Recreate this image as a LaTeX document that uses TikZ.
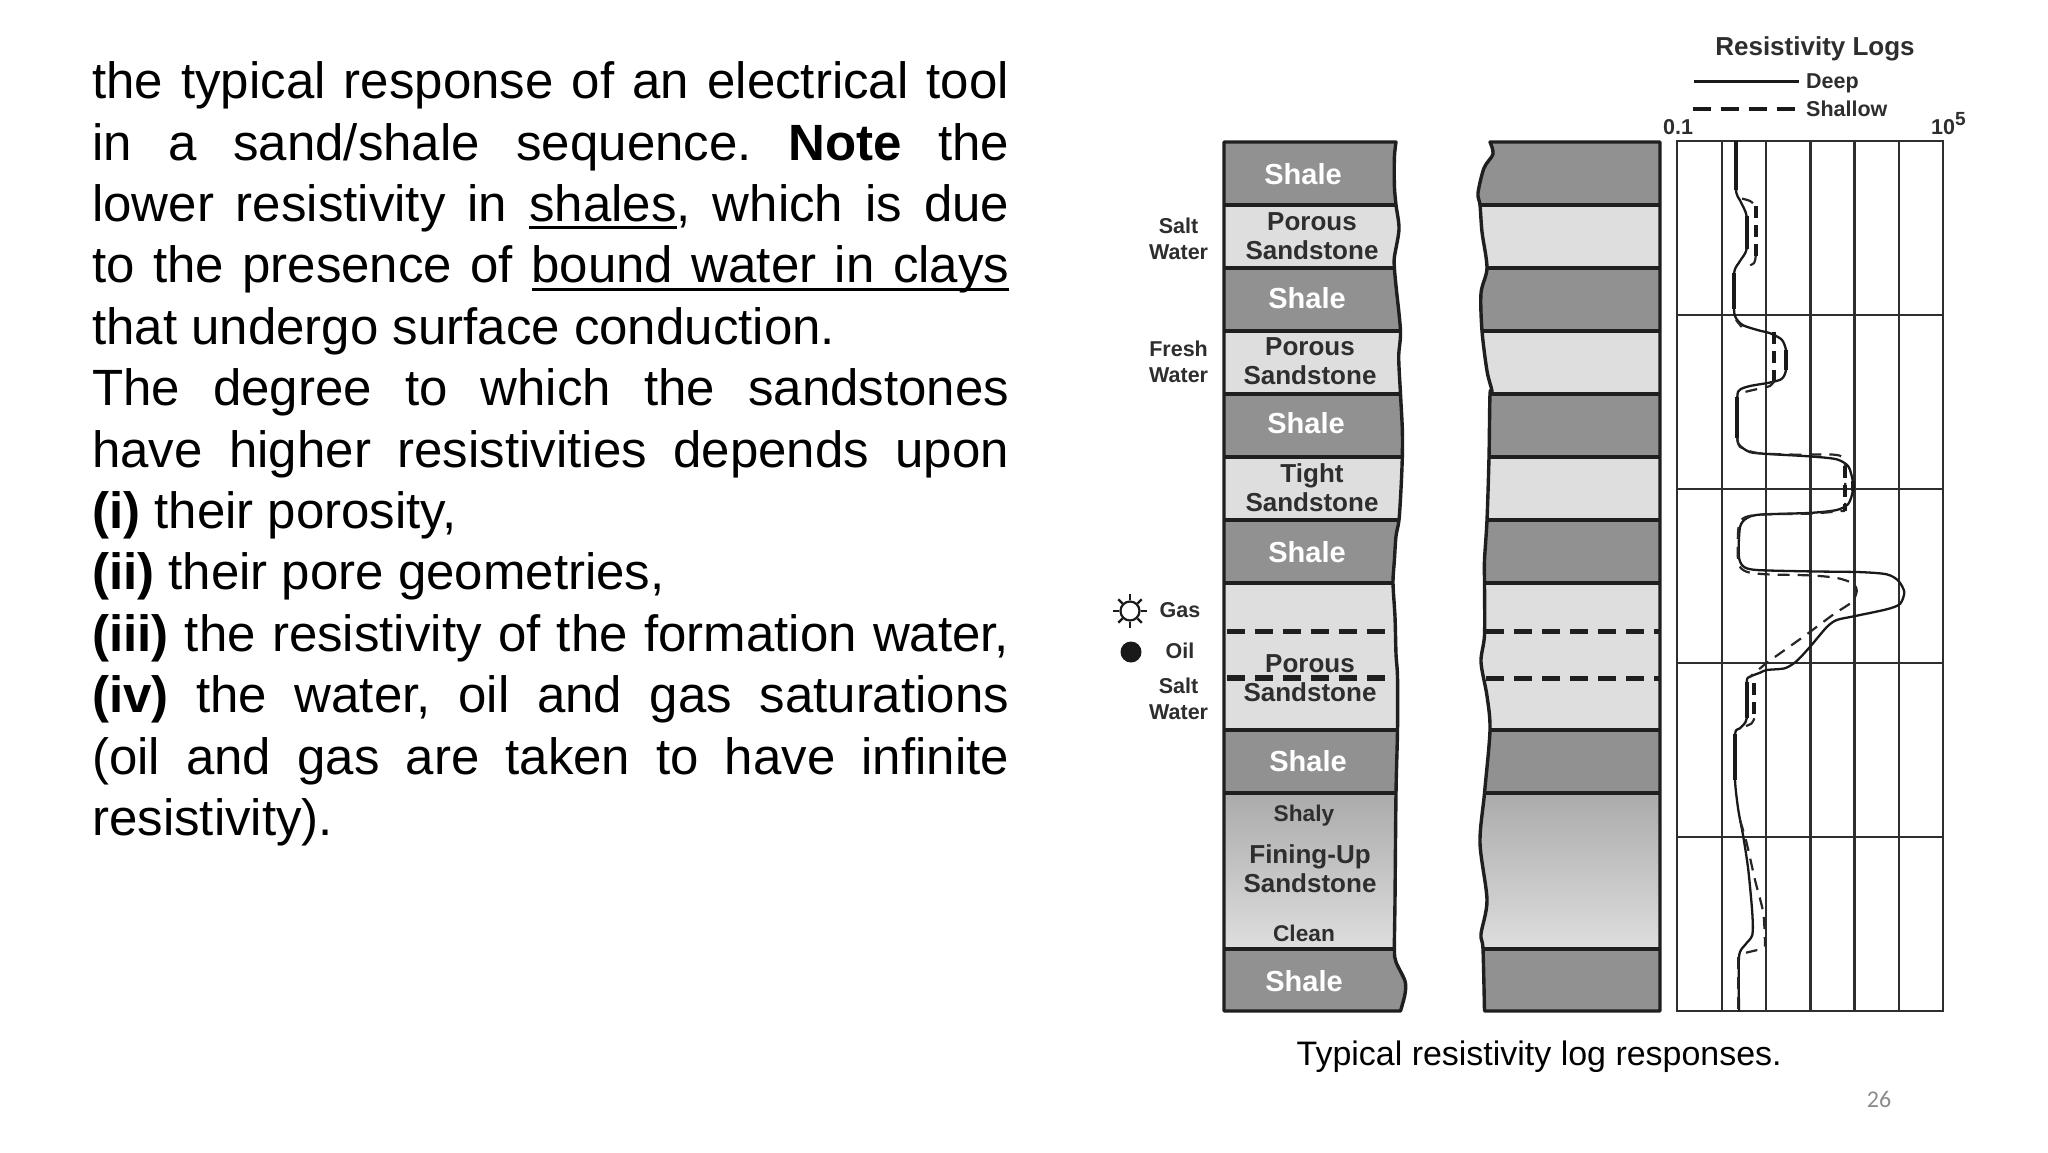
\documentclass[tikz,border=0pt]{standalone}
\usepackage{fontspec}
\setmainfont{Liberation Sans}
\newfontfamily\slidenumfont{Carlito}
\newcommand{\ulword}[1]{\leavevmode\setbox0\hbox{#1}\rlap{\vrule width\wd0 height -5pt depth 8pt}\box0}
\newcommand{\ulgap}{\leaders\hrule height -5pt depth 8pt\hskip 0.278em plus 0.139em minus 0.09em}
\tikzset{
    bodytext/.style={anchor=north west, inner sep=0pt, text width=917pt, align=justify, font=\fontsize{51}{61.4}\selectfont},
    shalelabel/.style={text=white, inner sep=0pt, font=\fontsize{29}{31}\selectfont\bfseries},
    rocklabel/.style={text=black!82, inner sep=0pt, align=center, font=\fontsize{26}{29}\selectfont\bfseries},
    sidelabel/.style={text=black!82, inner sep=0pt, align=center, font=\fontsize{21.5}{26}\selectfont\bfseries},
    shalefill/.style={fill=black!43},
    sandfill/.style={fill=black!13},
    contact/.style={line width=3.4pt, draw=black!88},
    fluidline/.style={line width=5pt, draw=black!88, dash pattern=on 18pt off 10pt},
    gridline/.style={line width=2.4pt, draw=black!82},
    deeplog/.style={line width=2.3pt, draw=black!90, line join=round},
    deepthick/.style={line width=4pt, draw=black!90},
    shallowlog/.style={line width=2.2pt, draw=black!85, dash pattern=on 12pt off 8pt},
    shallowthick/.style={line width=4pt, draw=black!90, dash pattern=on 12pt off 7pt},
}
\begin{document}
\begin{tikzpicture}[x=1pt, y=-1pt]
    \useasboundingbox (0,0) rectangle (2048,1152);
    \fill[white] (0,0) rectangle (2048,1152);
    % text on the left
    \node[bodytext] (body) at (92,61.5) {\tolerance=10000\hfuzz=20pt\frenchspacing
        the typical response of an electrical tool\linebreak
        in a sand/shale sequence. \textbf{Note} the\linebreak
        lower resistivity in \ulword{shales}, which is due\linebreak
        to the presence of \ulword{bound}\ulgap\ulword{water}\ulgap\ulword{in}\ulgap\ulword{clays}\linebreak
        that undergo surface conduction.\par
        The degree to which the sandstones\linebreak
        have higher resistivities depends upon\linebreak
        \textbf{(i)} their porosity,\par
        \textbf{(ii)} their pore geometries,\par
        \textbf{(iii)} the resistivity of the formation water,\linebreak
        \textbf{(iv)} the water, oil and gas saturations\linebreak
        (oil and gas are taken to have infinite\linebreak
        resistivity).};
    % left column
    \begin{scope}
        \clip (1224,142) -- plot[smooth, tension=0.5] coordinates {(1396,142) (1394.4,157) (1394.4,186) (1396,205) (1399,229) (1394.4,257) (1394.4,268) (1396,286) (1400.5,331) (1398.7,357) (1400.5,394) (1402.3,429) (1402.3,457) (1401,489) (1399,520) (1396,536) (1394.4,560) (1393,583) (1395,617) (1396,654) (1397.5,677) (1397.5,730) (1396,793) (1395,900) (1394.4,949) (1396,962) (1405,981) (1405,994) (1400.5,1011)} -- (1224,1011) -- cycle;
        \foreach \a/\b/\s in {142/205/shalefill, 205/268/sandfill, 268/331/shalefill, 331/394/sandfill, 394/457/shalefill, 457/520/sandfill, 520/583/shalefill, 583/730/sandfill, 730/793/shalefill, 949/1011/shalefill}
            \fill[\s] (1220,\a) rectangle (1410,\b);
        \shade[top color=black!33, bottom color=black!13] (1220,793) rectangle (1410,949);
        \foreach \a in {205,268,331,394,457,520,583,730,793,949}
            \draw[contact] (1220,\a) -- (1410,\a);
    \end{scope}
    \draw[contact, line join=round] (1224,142) -- plot[smooth, tension=0.5] coordinates {(1396,142) (1394.4,157) (1394.4,186) (1396,205) (1399,229) (1394.4,257) (1394.4,268) (1396,286) (1400.5,331) (1398.7,357) (1400.5,394) (1402.3,429) (1402.3,457) (1401,489) (1399,520) (1396,536) (1394.4,560) (1393,583) (1395,617) (1396,654) (1397.5,677) (1397.5,730) (1396,793) (1395,900) (1394.4,949) (1396,962) (1405,981) (1405,994) (1400.5,1011)} -- (1224,1011) -- cycle;
    \draw[fluidline] (1227,631) -- (1390,631);
    \draw[fluidline, line width=6pt] (1227,678) -- (1390,678);
    % right column
    \begin{scope}
        \clip (1660,142) -- plot[smooth, tension=0.5] coordinates {(1490,142) (1493,154) (1484,168) (1478,193) (1480,205) (1482,232) (1487,268) (1481,293) (1482,331) (1487,371) (1492,391) (1490,394) (1489,457) (1487,520) (1484.5,560) (1484.5,583) (1484.5,635) (1481,662) (1487,696) (1490,730) (1484.5,793) (1480,843) (1487,900) (1481,934) (1483,949) (1484.5,1011)} -- (1660,1011) -- cycle;
        \foreach \a/\b/\s in {142/205/shalefill, 205/268/sandfill, 268/331/shalefill, 331/394/sandfill, 394/457/shalefill, 457/520/sandfill, 520/583/shalefill, 583/730/sandfill, 730/793/shalefill, 949/1011/shalefill}
            \fill[\s] (1470,\a) rectangle (1665,\b);
        \shade[top color=black!33, bottom color=black!13] (1470,793) rectangle (1665,949);
        \foreach \a in {205,268,331,394,457,520,583,730,793,949}
            \draw[contact] (1470,\a) -- (1665,\a);
    \end{scope}
    \draw[contact, line join=round] (1660,142) -- plot[smooth, tension=0.5] coordinates {(1490,142) (1493,154) (1484,168) (1478,193) (1480,205) (1482,232) (1487,268) (1481,293) (1482,331) (1487,371) (1492,391) (1490,394) (1489,457) (1487,520) (1484.5,560) (1484.5,583) (1484.5,635) (1481,662) (1487,696) (1490,730) (1484.5,793) (1480,843) (1487,900) (1481,934) (1483,949) (1484.5,1011)} -- (1660,1011) -- cycle;
    \draw[fluidline] (1486,631) -- (1660,631);
    \draw[fluidline] (1486,678) -- (1660,678);
    % rock names
    \node[shalelabel] (shale1) at (1303,174) {Shale};
    \node[rocklabel] (porous1) at (1312,236) {Porous\\Sandstone};
    \node[shalelabel] (shale2) at (1307,298) {Shale};
    \node[rocklabel] (porous2) at (1310,361) {Porous\\Sandstone};
    \node[shalelabel] (shale3) at (1306,423) {Shale};
    \node[rocklabel] (tight) at (1312,488) {Tight\\Sandstone};
    \node[shalelabel] (shale4) at (1307,552) {Shale};
    \node[rocklabel] (porous3) at (1310,678.5) {Porous\\Sandstone};
    \node[shalelabel] (shale5) at (1308,761) {Shale};
    \node[sidelabel, font=\fontsize{22.7}{26}\selectfont\bfseries] (shaly) at (1304,816) {Shaly};
    \node[rocklabel] (fining) at (1310,869) {Fining-Up\\Sandstone};
    \node[sidelabel, font=\fontsize{22.7}{26}\selectfont\bfseries] (clean) at (1304,933) {Clean};
    \node[shalelabel] (shale6) at (1304,981) {Shale};
    % fluids
    \node[sidelabel] (salt1) at (1178.6,239) {Salt\\Water};
    \node[sidelabel] (fresh) at (1178.6,362) {Fresh\\Water};
    \node[circle, draw=black!90, line width=2.2pt, inner sep=0pt, minimum size=19pt] (sun) at (1130,611) {};
    \foreach \r in {0,45,...,315}
        \draw[line width=2.2pt, draw=black!90] (sun.\r) -- ([shift={(\r:6pt)}]sun.\r);
    \node[sidelabel] (gas) at (1180,610) {Gas};
    \node[circle, fill=black!90, inner sep=0pt, minimum size=21pt] (oildot) at (1131,652) {};
    \node[sidelabel] (oil) at (1180,651) {Oil};
    \node[sidelabel] (salt2) at (1178.6,699) {Salt\\Water};
    % grid of the log track
    \foreach \x in {1722,1766,1810.5,1854.5,1899}
        \draw[gridline] (\x,141) -- (\x,1011);
    \foreach \y in {315,489,663,837}
        \draw[gridline] (1677,\y) -- (1943,\y);
    \draw[gridline, line width=2pt] (1677,141) rectangle (1943,1011);
    % deep curve
    \draw[deeplog] plot[smooth, tension=0.45] coordinates {(1736,141) (1736,189.6) (1740,200.4) (1746.7,216.4) (1746.7,248.6) (1740,261) (1734,272.9) (1734,309.3) (1736,318.2) (1743.3,325.4) (1760,330.7) (1770,333.2) (1781.7,339.6) (1786,350.4) (1786,370) (1781.7,378.9) (1770,382.5) (1750,386) (1740,389.6) (1737.3,396.8) (1737.3,437.9) (1740,445.7) (1750,452.1) (1766.7,453.9) (1810,456.4) (1836.7,459.3) (1848.3,466.4) (1852.7,480.7) (1852.7,491.4) (1848.3,503.9) (1836.7,510) (1810,512.9) (1760,514.6) (1746.7,518.2) (1740,527.1) (1738.7,555.7) (1743.3,566.4) (1756.7,570) (1810,571.4) (1860,572.1) (1886.7,574.3) (1898.3,580.7) (1904.3,592.1) (1900,603.9) (1886.7,609.3) (1853.3,616.4) (1836.7,620) (1826.7,627.1) (1810,646.8) (1796.7,661) (1785,668.2) (1766.7,670) (1760,672.7) (1750,676.7) (1746.7,681.7) (1746.7,718.3) (1740,728.3) (1735,734) (1735,780) (1738.3,810) (1743.3,836.7) (1748.3,870) (1752.3,913.3) (1752.3,935) (1745,945) (1739,956.7) (1739,1011)};
    \foreach \x/\a/\b in {1736/141/190, 1734/273/309, 1746.7/216/249, 1786/350/370, 1737.3/397/438, 1852.7/481/491, 1746.7/682/718, 1735/734/780}
        \draw[deepthick] (\x,\a) -- (\x,\b);
    % shallow curve
    \draw[shallowlog] plot[smooth, tension=0.5] coordinates {(1742,198.6) (1750,201) (1755.7,205.7)};
    \draw[shallowlog] plot[smooth, tension=0.5] coordinates {(1755.7,255.7) (1754,263) (1746,267)};
    \draw[shallowlog] plot[smooth, tension=0.5] coordinates {(1736,320) (1741.7,327)};
    \draw[shallowlog] plot[smooth, tension=0.5] coordinates {(1774,380.7) (1770,386) (1753,390) (1740,393.2)};
    \draw[shallowlog] plot[smooth, tension=0.45] coordinates {(1737.3,437.9) (1740,446.8) (1756.7,452.9) (1793,454.6) (1833,454.6) (1843,457.5) (1845,466.4) (1845,507.5) (1840,511) (1810,513.6) (1760,514.6) (1743.3,518.2) (1738.3,529) (1738.3,562.9) (1746.7,571.8) (1766.7,574.3) (1810,575.4) (1836.7,577.9) (1853.3,583.6) (1856.7,591.4) (1851.7,602.1) (1833.3,614.5) (1806.7,634.3) (1786.7,648.6) (1766.7,662.9) (1755,672.7) (1750,676.7)};
    \draw[shallowlog] plot[smooth, tension=0.5] coordinates {(1754.3,718.3) (1751.7,723.3) (1746,726)};
    \draw[shallowlog] plot[smooth, tension=0.5] coordinates {(1740,820) (1746.7,843.3) (1755,880) (1763.3,913.3) (1765,946.7)};
    \draw[shallowlog] (1757.3,950) -- (1746,952.7);
    \draw[shallowlog] (1738.3,956.7) -- (1738.3,1011);
    \foreach \x/\a/\b in {1755.7/206/256, 1774/332/381, 1845/466/511, 1754.3/683/718}
        \draw[shallowthick] (\x,\a) -- (\x,\b);
    % legend and scale
    \node[sidelabel, font=\fontsize{26}{29}\selectfont\bfseries] (logtitle) at (1815,48.5) {Resistivity Logs};
    \coordinate (deepa) at (1694,81.4);
    \coordinate (deepb) at (1799,81.4);
    \node[sidelabel, anchor=west] (deeptext) at (1806,83.5) {Deep};
    \draw[line width=3pt, draw=black!90] (deepa) -- (deepb);
    \coordinate (shallowa) at (1692.5,109);
    \coordinate (shallowb) at (1797,109);
    \node[sidelabel, anchor=west] (shallowtext) at (1806,109) {Shallow};
    \draw[line width=4pt, draw=black!90, dash pattern=on 18pt off 10pt] (shallowa) -- (shallowb);
    \node[sidelabel] (scalemin) at (1678,127) {0.1};
    \node[sidelabel, anchor=base west] (scalemax) at (1931,134) {10\raisebox{9pt}{\fontsize{19}{20}\selectfont 5}};
    % caption and page number
    \node[inner sep=0pt, anchor=base west, font=\fontsize{33.95}{36}\selectfont] (caption) at (1296.5,1065) {Typical resistivity log responses.};
    \node[inner sep=0pt, text=black!45, font=\fontsize{24}{26}\selectfont\slidenumfont] (pagenum) at (1879,1099) {26};
\end{tikzpicture}
\end{document}
